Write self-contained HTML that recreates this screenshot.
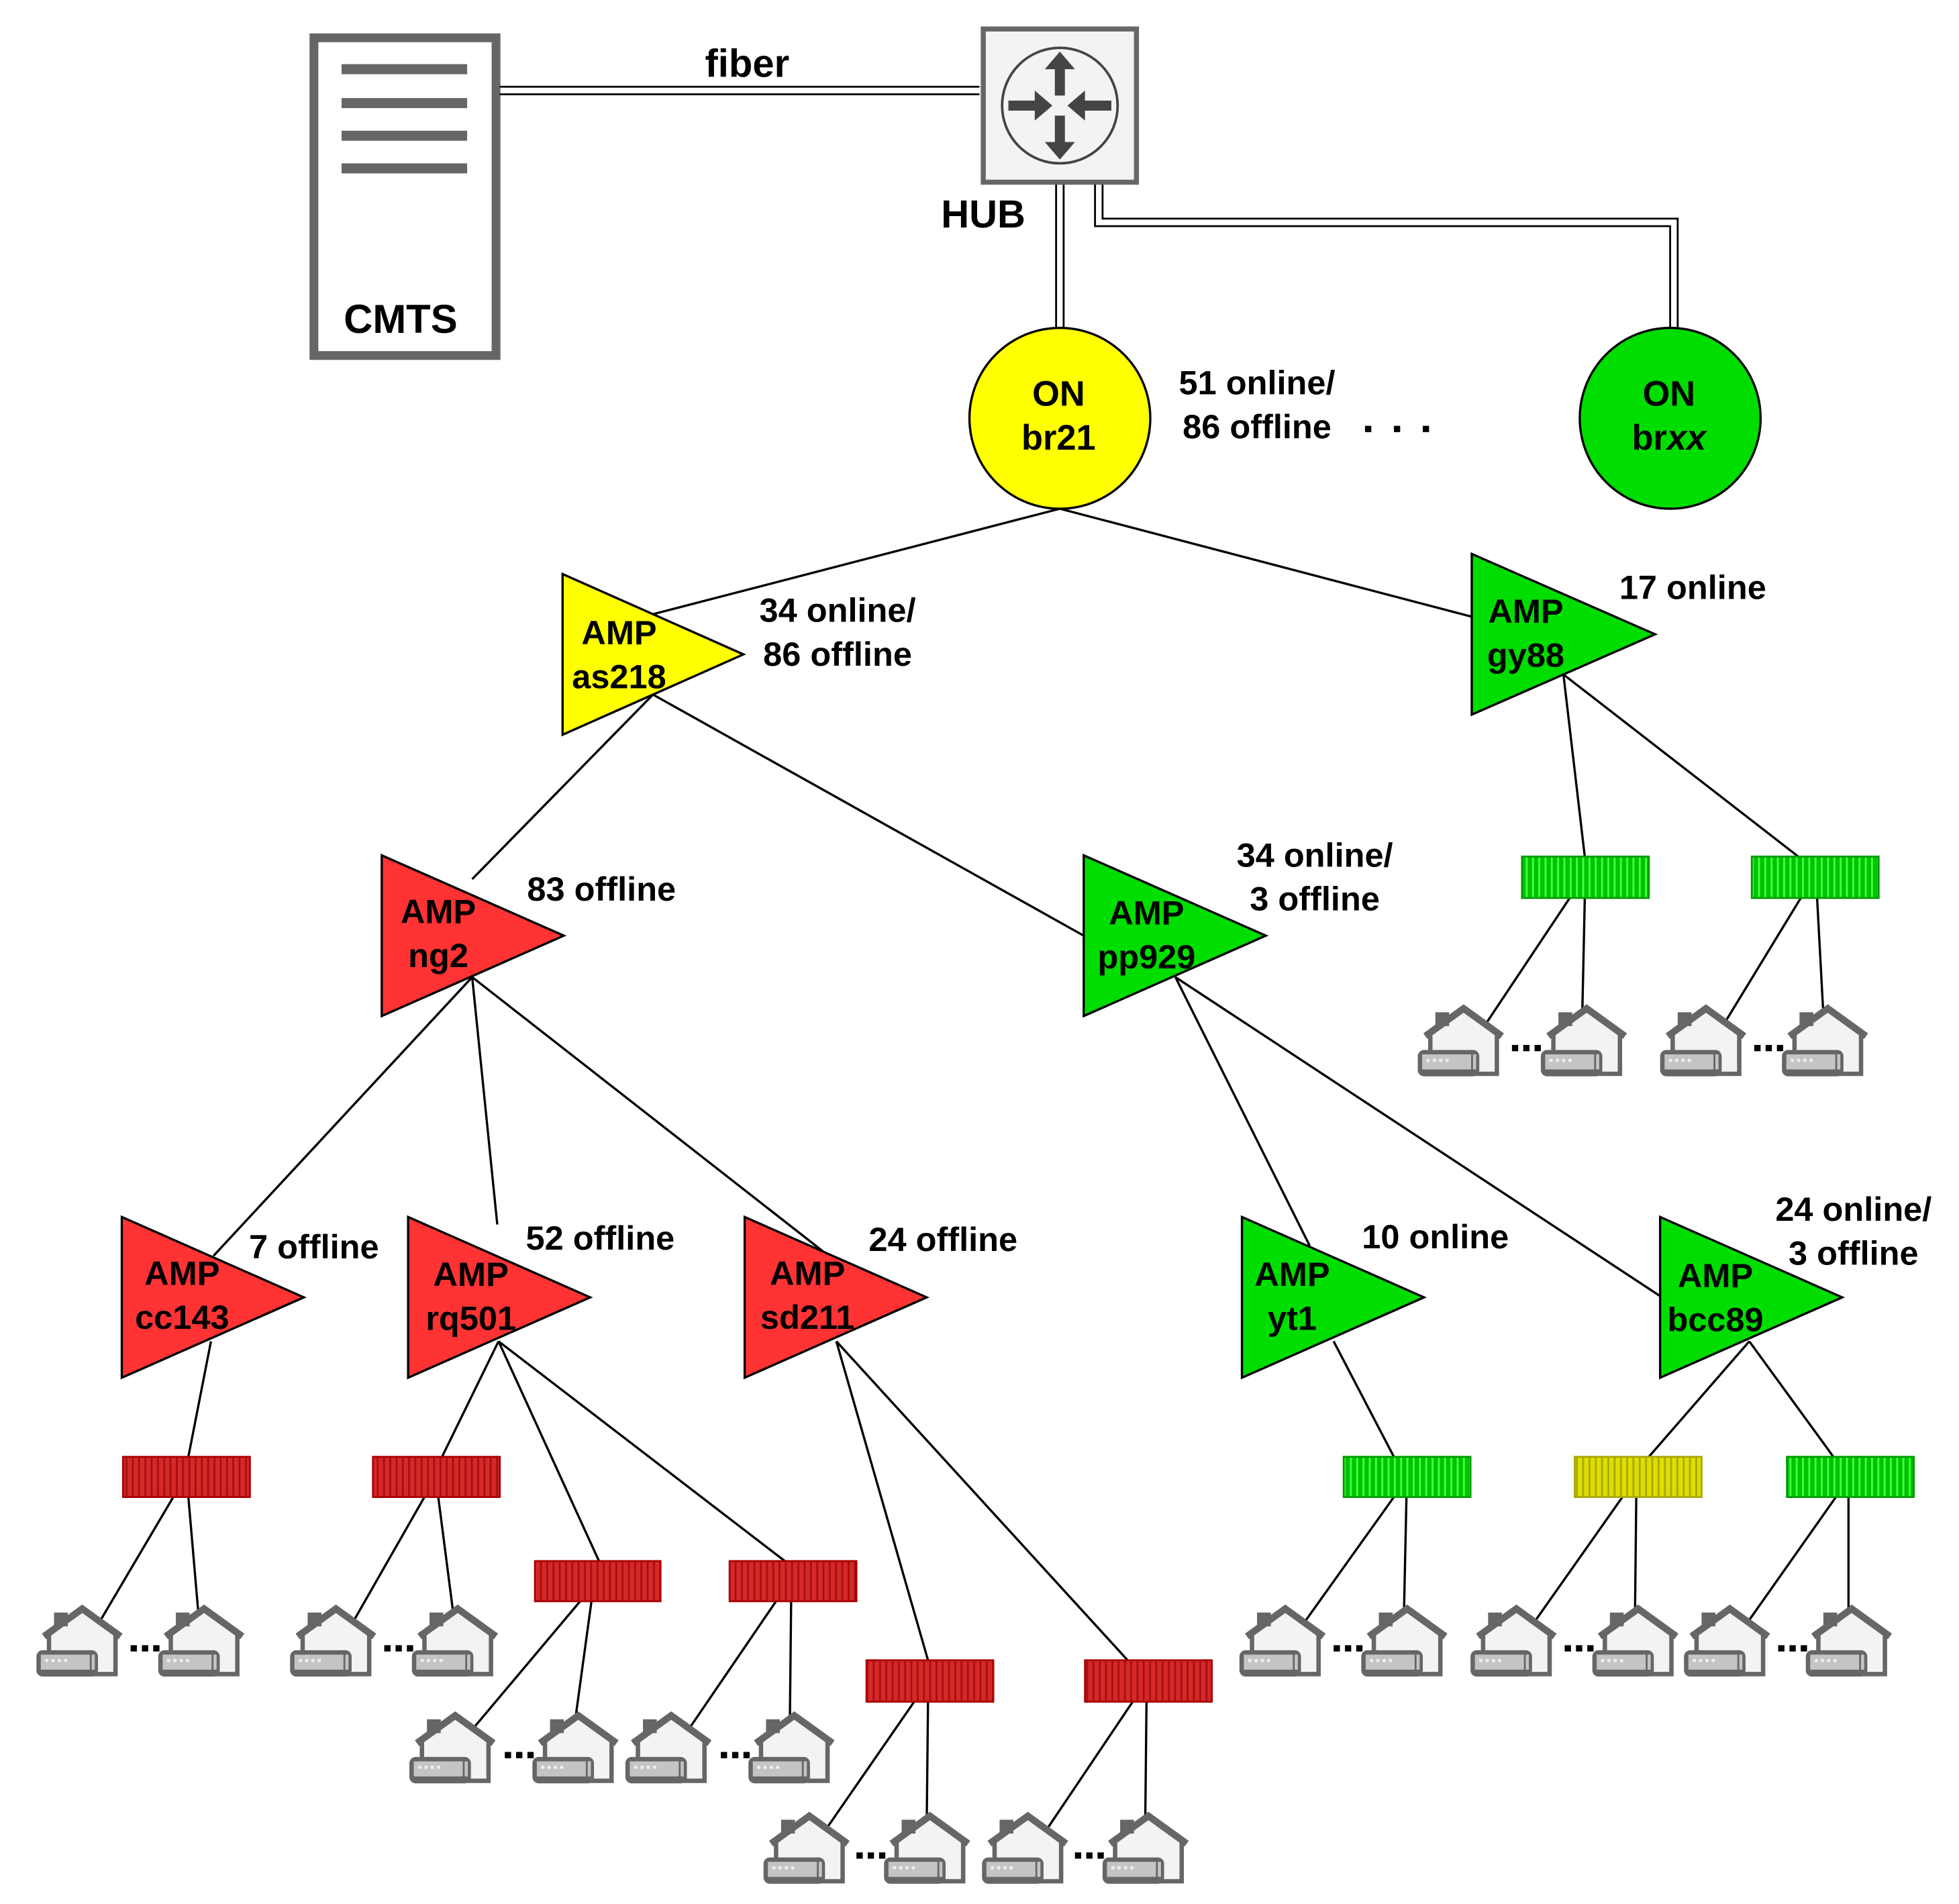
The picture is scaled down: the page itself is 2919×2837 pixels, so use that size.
<!DOCTYPE html>
<html><head><meta charset="utf-8"><style>html,body{margin:0;padding:0;background:#fff}svg{display:block}</style></head>
<body>
<svg width="2919" height="2837" viewBox="0 0 1560 1516" xmlns="http://www.w3.org/2000/svg" font-family="Liberation Sans, Arial, sans-serif" font-weight="bold">
<defs>
<pattern id="sr" width="5" height="10" patternUnits="userSpaceOnUse"><rect width="5" height="10" fill="#d62828"/><rect width="1.5" height="10" fill="#a51010"/></pattern>
<pattern id="sg" width="5" height="10" patternUnits="userSpaceOnUse"><rect width="5" height="10" fill="#00c400"/><rect width="1.5" height="10" fill="#44ff44"/></pattern>
<pattern id="sy" width="5" height="10" patternUnits="userSpaceOnUse"><rect width="5" height="10" fill="#dede00"/><rect width="1.5" height="10" fill="#a8a800"/></pattern>
<g id="house" transform="translate(-1,-6)">
<path d="M10,21 L36.5,3 L63,21 L63,54 L10,54 Z" fill="#f3f3f3" stroke="#666" stroke-width="3.5"/>
<polyline points="6,24 36.5,2 67,24" fill="none" stroke="#666" stroke-width="5.5"/>
<rect x="14" y="5" width="11" height="11" fill="#666"/>
<rect x="0" y="35" width="49" height="21" rx="5" fill="#666"/>
<rect x="3.5" y="38.5" width="39" height="12" fill="#c4c4c4"/>
<rect x="44" y="38.5" width="2.5" height="12" fill="#c4c4c4"/>
<g fill="#eee"><rect x="7" y="42" width="2.5" height="2.5"/><rect x="12" y="42" width="2.5" height="2.5"/><rect x="17" y="42" width="2.5" height="2.5"/><rect x="22" y="42" width="2.5" height="2.5"/></g>
</g>
<g id="dots" fill="#000" transform="translate(-1,-5)"><rect x="0" y="0" width="5" height="5"/><rect x="9" y="0" width="5" height="5"/><rect x="18" y="0" width="5" height="5"/></g>
</defs>

<!-- CMTS -->
<rect x="250" y="30" width="145" height="253" fill="#fff" stroke="#666" stroke-width="7"/>
<g fill="#666"><rect x="272" y="51" width="100" height="8"/><rect x="272" y="78" width="100" height="8"/><rect x="272" y="104" width="100" height="8"/><rect x="272" y="130" width="100" height="8"/></g>
<text x="319" y="265" font-size="32" text-anchor="middle">CMTS</text>
<!-- fiber -->
<g stroke="#000" stroke-width="1.5" fill="none">
<line x1="398" y1="69" x2="780" y2="69"/><line x1="398" y1="75" x2="780" y2="75"/>
<line x1="841" y1="146" x2="841" y2="263"/><line x1="847" y1="146" x2="847" y2="263"/>
<polyline points="872,146 872,180 1330,180 1330,263"/><polyline points="878,146 878,174 1336,174 1336,263"/>
</g>
<text x="595" y="61" font-size="31" text-anchor="middle">fiber</text>
<!-- HUB -->
<rect x="783" y="23" width="122" height="122" fill="#f3f3f3" stroke="#666" stroke-width="4"/>
<circle cx="844" cy="84" r="46" fill="none" stroke="#444" stroke-width="2"/>
<g fill="#444">
<polygon points="844,41 832,55 840,55 840,76 848,76 848,55 856,55"/>
<polygon points="844,127 832,113 840,113 840,92 848,92 848,113 856,113"/>
<polygon points="838,84 824,72 824,80 803,80 803,88 824,88 824,96"/>
<polygon points="850,84 864,72 864,80 885,80 885,88 864,88 864,96"/>
</g>
<text x="783" y="181" font-size="31" text-anchor="middle">HUB</text>

<!-- tree lines -->
<g stroke="#000" stroke-width="1.8" fill="none">
<line x1="844" y1="405" x2="520" y2="489"/><line x1="844" y1="405" x2="1172" y2="491"/>
<line x1="520" y1="553" x2="376" y2="700"/><line x1="520" y1="553" x2="863" y2="745"/>
<line x1="1245" y1="537" x2="1262" y2="682"/><line x1="1245" y1="537" x2="1432" y2="682"/>
<line x1="376" y1="778" x2="170" y2="1000"/><line x1="376" y1="778" x2="396" y2="975"/><line x1="376" y1="778" x2="660" y2="1000"/>
<line x1="936" y1="778" x2="1043" y2="992"/><line x1="936" y1="778" x2="1322" y2="1032"/>
<line x1="168" y1="1068" x2="150" y2="1160"/>
<line x1="397" y1="1068" x2="352" y2="1160"/><line x1="397" y1="1068" x2="477" y2="1243"/><line x1="397" y1="1068" x2="625" y2="1243"/>
<line x1="666" y1="1068" x2="739" y2="1322"/><line x1="666" y1="1068" x2="898" y2="1322"/>
<line x1="1062" y1="1068" x2="1110" y2="1160"/>
<line x1="1393" y1="1068" x2="1313" y2="1160"/><line x1="1393" y1="1068" x2="1460" y2="1160"/>
<!-- box to house -->
<line x1="1250" y1="715" x2="1180" y2="820"/><line x1="1262" y1="715" x2="1260" y2="808"/>
<line x1="1434" y1="715" x2="1370" y2="820"/><line x1="1447" y1="715" x2="1452" y2="808"/>
<line x1="138" y1="1192" x2="76" y2="1297"/><line x1="150" y1="1192" x2="158" y2="1285"/>
<line x1="338" y1="1192" x2="278" y2="1297"/><line x1="349" y1="1192" x2="361" y2="1285"/>
<line x1="462" y1="1275" x2="372" y2="1382"/><line x1="471" y1="1275" x2="458" y2="1370"/>
<line x1="618" y1="1275" x2="545" y2="1382"/><line x1="630" y1="1275" x2="629" y2="1370"/>
<line x1="728" y1="1355" x2="654" y2="1462"/><line x1="739" y1="1355" x2="738" y2="1450"/>
<line x1="902" y1="1355" x2="830" y2="1462"/><line x1="913" y1="1355" x2="912" y2="1450"/>
<line x1="1110" y1="1192" x2="1035" y2="1297"/><line x1="1120" y1="1192" x2="1118" y2="1285"/>
<line x1="1292" y1="1192" x2="1218" y2="1297"/><line x1="1303" y1="1192" x2="1302" y2="1285"/>
<line x1="1462" y1="1192" x2="1388" y2="1297"/><line x1="1472" y1="1192" x2="1472" y2="1285"/>
</g>

<!-- circles -->
<circle cx="844" cy="333" r="72" fill="#ffff00" stroke="#000" stroke-width="1.8"/>
<circle cx="1330" cy="333" r="72" fill="#00dd00" stroke="#000" stroke-width="1.8"/>
<g font-size="28" text-anchor="middle">
<text x="843" y="323">ON</text><text x="843" y="358">br21</text>
<text x="1329" y="323">ON</text><text x="1329" y="358">br<tspan font-style="italic">xx</tspan></text>
</g>
<g font-size="27" text-anchor="middle">
<text x="1001" y="314">51 online/</text><text x="1001" y="349">86 offline</text>
</g>
<g fill="#000"><rect x="1087" y="339" width="5" height="5"/><rect x="1110" y="339" width="5" height="5"/><rect x="1133" y="339" width="5" height="5"/></g>

<!-- triangles -->
<g stroke="#000" stroke-width="1.8">
<polygon points="448,457 448,585 592,521" fill="#ffff00"/>
<polygon points="1172,441 1172,569 1318,505" fill="#00dd00"/>
<polygon points="304,681 304,809 449,745" fill="#ff3333"/>
<polygon points="863,681 863,809 1008,745" fill="#00dd00"/>
<polygon points="97,969 97,1097 242,1033" fill="#ff3333"/>
<polygon points="325,969 325,1097 470,1033" fill="#ff3333"/>
<polygon points="593,969 593,1097 738,1033" fill="#ff3333"/>
<polygon points="989,969 989,1097 1134,1033" fill="#00dd00"/>
<polygon points="1322,969 1322,1097 1467,1033" fill="#00dd00"/>
</g>
<g font-size="27" text-anchor="middle">
<text x="493" y="513">AMP</text><text x="493" y="548">as218</text>
<text x="1215" y="496">AMP</text><text x="1215" y="531">gy88</text>
<text x="349" y="735">AMP</text><text x="349" y="770">ng2</text>
<text x="913" y="736">AMP</text><text x="913" y="771">pp929</text>
<text x="145" y="1023">AMP</text><text x="145" y="1058">cc143</text>
<text x="375" y="1024">AMP</text><text x="375" y="1059">rq501</text>
<text x="643" y="1023">AMP</text><text x="643" y="1058">sd211</text>
<text x="1029" y="1024">AMP</text><text x="1029" y="1059">yt1</text>
<text x="1366" y="1025">AMP</text><text x="1366" y="1060">bcc89</text>
<text x="667" y="495">34 online/</text><text x="667" y="530">86 offline</text>
<text x="1348" y="477">17 online</text>
<text x="479" y="717">83 offline</text>
<text x="1047" y="690">34 online/</text><text x="1047" y="725">3 offline</text>
<text x="250" y="1002">7 offline</text>
<text x="478" y="995">52 offline</text>
<text x="751" y="996">24 offline</text>
<text x="1143" y="994">10 online</text>
<text x="1476" y="972">24 online/</text><text x="1476" y="1007">3 offline</text>
</g>

<!-- splitter boxes -->
<g stroke-width="1.5">
<rect x="1212" y="682" width="101" height="33" fill="url(#sg)" stroke="#009900"/>
<rect x="1395" y="682" width="101" height="33" fill="url(#sg)" stroke="#009900"/>
<rect x="98" y="1160" width="101" height="32" fill="url(#sr)" stroke="#a00"/>
<rect x="297" y="1160" width="101" height="32" fill="url(#sr)" stroke="#a00"/>
<rect x="426" y="1243" width="100" height="32" fill="url(#sr)" stroke="#a00"/>
<rect x="581" y="1243" width="101" height="32" fill="url(#sr)" stroke="#a00"/>
<rect x="690" y="1322" width="101" height="33" fill="url(#sr)" stroke="#a00"/>
<rect x="864" y="1322" width="101" height="33" fill="url(#sr)" stroke="#a00"/>
<rect x="1070" y="1160" width="101" height="32" fill="url(#sg)" stroke="#009900"/>
<rect x="1254" y="1160" width="101" height="32" fill="url(#sy)" stroke="#a8a800"/>
<rect x="1423" y="1160" width="101" height="32" fill="url(#sg)" stroke="#009900"/>
</g>

<!-- houses -->
<use href="#house" x="1130" y="807"/><use href="#house" x="1228" y="807"/><use href="#dots" x="1205" y="837"/>
<use href="#house" x="1323" y="807"/><use href="#house" x="1420" y="807"/><use href="#dots" x="1398" y="837"/>
<use href="#house" x="30" y="1285"/><use href="#house" x="127" y="1285"/><use href="#dots" x="105" y="1315"/>
<use href="#house" x="232" y="1285"/><use href="#house" x="329" y="1285"/><use href="#dots" x="307" y="1315"/>
<use href="#house" x="327" y="1370"/><use href="#house" x="425" y="1370"/><use href="#dots" x="403" y="1400"/>
<use href="#house" x="499" y="1370"/><use href="#house" x="597" y="1370"/><use href="#dots" x="575" y="1400"/>
<use href="#house" x="609" y="1450"/><use href="#house" x="705" y="1450"/><use href="#dots" x="683" y="1480"/>
<use href="#house" x="783" y="1450"/><use href="#house" x="879" y="1450"/><use href="#dots" x="857" y="1480"/>
<use href="#house" x="988" y="1285"/><use href="#house" x="1085" y="1285"/><use href="#dots" x="1063" y="1315"/>
<use href="#house" x="1172" y="1285"/><use href="#house" x="1269" y="1285"/><use href="#dots" x="1247" y="1315"/>
<use href="#house" x="1342" y="1285"/><use href="#house" x="1439" y="1285"/><use href="#dots" x="1417" y="1315"/>
</svg>
</body></html>
